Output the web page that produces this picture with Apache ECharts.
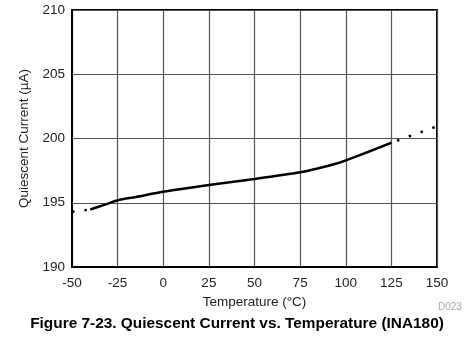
<!DOCTYPE html>
<html>
<head>
<meta charset="utf-8">
<script src="https://cdn.jsdelivr.net/npm/echarts@6/dist/echarts.min.js"></script>
<style>
  html, body { margin: 0; padding: 0; background: #fff; }
  #chart { width: 474px; height: 338px; }
</style>
</head>
<body>
<div id="chart"></div>
<script>
// Measured quiescent current (µA) across temperature (°C)
var tempMeasured = [-40, -32, -25, -15, 0, 25, 50, 75, 85, 95, 100, 112.5, 125];
var currentMeasured = [194.47, 194.85, 195.2, 195.45, 195.85, 196.38, 196.85, 197.37, 197.68, 198.05, 198.3, 198.97, 199.67];

// Extrapolated ends, drawn dotted
var tempLowExt = [-50, -40];
var currentLowExt = [194.3, 194.47];
var tempHighExt = [125, 150];
var currentHighExt = [199.67, 200.95];

var xTicks = [-50, -25, 0, 25, 50, 75, 100, 125, 150];
var yTicks = [190, 195, 200, 205, 210];

function pairs(xs, ys) {
  return xs.map(function (x, i) { return [x, ys[i]]; });
}

var FONT = 'Liberation Sans, Arial, sans-serif';
var chart = echarts.init(document.getElementById('chart'), null, { renderer: 'canvas' });

chart.setOption({
  animation: false,
  backgroundColor: '#fff',
  grid: {
    left: 72, right: 37, top: 10, bottom: 71,
    show: true, borderColor: '#000', borderWidth: 2, backgroundColor: 'transparent'
  },
  title: [
    {
      text: 'Figure 7-23. Quiescent Current vs. Temperature (INA180)',
      left: 'center', top: 311,
      textStyle: { fontFamily: FONT, fontSize: 15.4, fontWeight: 'bold', color: '#000' }
    },
    {
      text: 'D023',
      left: 433, top: 297,
      textStyle: { fontFamily: FONT, fontSize: 10, fontWeight: 'normal', color: '#aaa' }
    }
  ],
  xAxis: {
    type: 'value',
    min: xTicks[0], max: xTicks[xTicks.length - 1], interval: 25,
    name: 'Temperature (°C)',
    nameLocation: 'middle', nameGap: 22,
    nameTextStyle: { fontFamily: FONT, fontSize: 13.5, color: '#222' },
    axisLine: { show: true, onZero: false, lineStyle: { color: '#000', width: 2 } },
    axisTick: { show: false },
    axisLabel: { fontFamily: FONT, fontSize: 13.5, color: '#222', margin: 9 },
    splitLine: { show: true, lineStyle: { color: '#555', width: 1.2 } }
  },
  yAxis: {
    type: 'value',
    min: yTicks[0], max: yTicks[yTicks.length - 1], interval: 5,
    name: 'Quiescent Current (µA)',
    nameLocation: 'middle', nameGap: 35, nameRotate: 90,
    nameTextStyle: { fontFamily: FONT, fontSize: 13.5, color: '#222' },
    axisLine: { show: true, onZero: false, lineStyle: { color: '#000', width: 2 } },
    axisTick: { show: false },
    axisLabel: { fontFamily: FONT, fontSize: 13.5, color: '#222', margin: 7 },
    splitLine: { show: true, lineStyle: { color: '#555', width: 1.2 } }
  },
  series: [
    {
      type: 'line', data: pairs(tempMeasured, currentMeasured),
      smooth: 0.3, showSymbol: false,
      lineStyle: { color: '#000', width: 2.5 }
    },
    {
      type: 'line', data: pairs(tempLowExt, currentLowExt),
      showSymbol: false,
      lineStyle: { color: '#000', width: 2.5, type: [2.5, 10] }
    },
    {
      type: 'line', data: pairs(tempHighExt, currentHighExt),
      showSymbol: false,
      lineStyle: { color: '#000', width: 2.5, type: [2.5, 10], dashOffset: -6 }
    }
  ]
});
</script>
</body>
</html>
